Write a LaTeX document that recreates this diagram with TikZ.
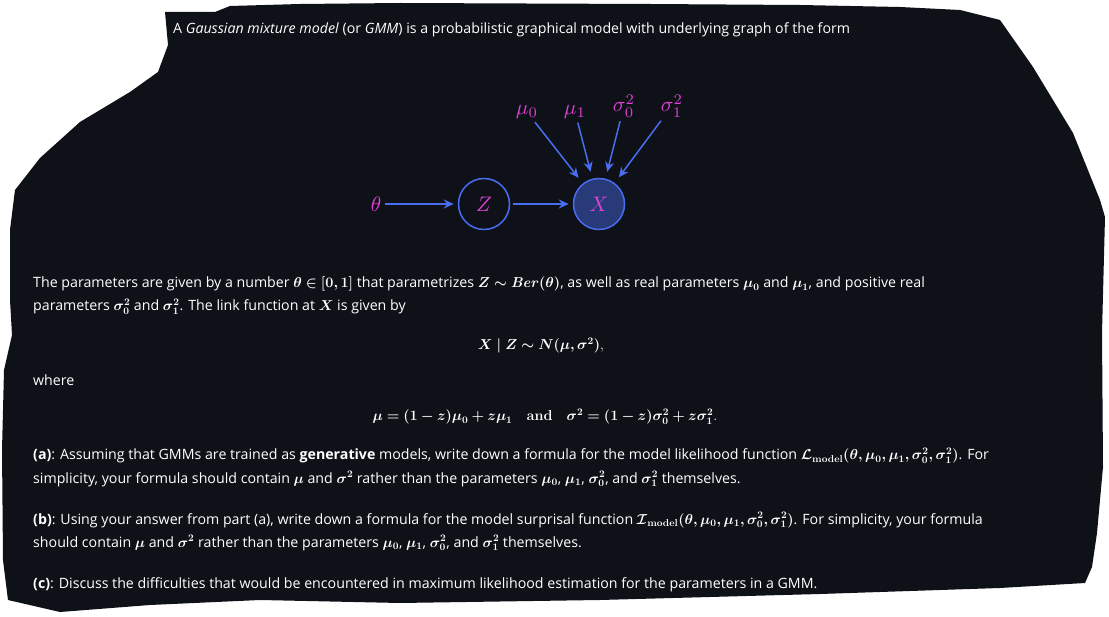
\documentclass[tikz,border=0pt]{standalone}
\usepackage{amsmath,bm}
\usepackage[no-math]{fontspec}
\setmainfont{Open Sans}
\usetikzlibrary{arrows.meta}
\definecolor{bgc}{HTML}{0E1117}
\definecolor{edgec}{HTML}{4A6CF0}
\definecolor{labc}{HTML}{E040D8}
\definecolor{xfill}{HTML}{283A78}
\tikzset{
  txt/.style={anchor=base west,text=white,font=\fontsize{14.2}{17}\selectfont,inner sep=0pt},
  ctxt/.style={anchor=base,text=white,font=\fontsize{14.2}{17}\selectfont,inner sep=0pt},
  lab/.style={text=labc,inner sep=1pt},
  rv/.style={circle,draw=edgec,line width=1.5pt,minimum size=51pt,text=labc},
  arr/.style={draw=edgec,line width=1.5pt,-{Stealth[length=10pt,width=9pt]}}
}
\newcommand{\bmm}[1]{\boldsymbol{#1}}
\newcommand{\grlab}[1]{\scalebox{2.1}{#1}}
\begin{document}
\begin{tikzpicture}[x=1pt,y=-1pt]
\useasboundingbox (0,0) rectangle (1109,617);
\fill[bgc] (165,12) -- (168,45) -- (158,72) -- (130,92) -- (80,122) -- (40,158) -- (15,190) -- (10,230) -- (10,300) -- (12,335) -- (4,370) -- (2,450) -- (3,560) -- (8,600) -- (60,612) -- (150,605) -- (260,600) -- (400,603) -- (600,600) -- (820,594) -- (1000,588) -- (1085,583) -- (1092,567) -- (1097,533) -- (1103,467) -- (1102,333) -- (1105,217) -- (1100,200) -- (1073,133) -- (1033,67) -- (1000,20) -- (960,10) -- (900,7) -- (800,5) -- (650,4) -- (400,3) -- (300,4) -- (230,6) -- (215,12) -- cycle;

\node[txt] (t0) at (173,34) {A \textit{Gaussian mixture model} (or \textit{GMM}) is a probabilistic graphical model with underlying graph of the form};

\node[lab] (th) at (376,204) {\grlab{$\theta$}};
\node[rv] (Z) at (484,204) {\grlab{$Z$}};
\node[rv,fill=xfill] (X) at (599,204) {\grlab{$X$}};
\node[lab] (m0) at (527,112) {\grlab{$\mu_0$}};
\node[lab] (m1) at (575,112) {\grlab{$\mu_1$}};
\node[lab] (s0) at (624,106) {\grlab{$\sigma_0^2$}};
\node[lab] (s1) at (672,106) {\grlab{$\sigma_1^2$}};
\draw[arr,shorten <=3pt,shorten >=4pt] (th) -- (Z);
\draw[arr,shorten <=3pt,shorten >=4pt] (Z) -- (X);
\draw[arr,shorten <=3pt,shorten >=7pt] (m0) -- (X);
\draw[arr,shorten <=3pt,shorten >=7pt] (m1) -- (X);
\draw[arr,shorten <=3pt,shorten >=7pt] (s0) -- (X);
\draw[arr,shorten <=3pt,shorten >=7pt] (s1) -- (X);

\node[txt] (p1) at (33,288) {The parameters are given by a number $\bmm{\theta\in[0,1]}$ that parametrizes $\bmm{Z\sim \mathit{Ber}(\theta)}$, as well as real parameters $\bmm{\mu_0}$ and $\bmm{\mu_1}$, and positive real};
\node[txt] (p2) at (33,311) {parameters $\bmm{\sigma_0^2}$ and $\bmm{\sigma_1^2}$. The link function at $\bmm{X}$ is given by};
\node[ctxt] (e1) at (541,350) {$\bmm{X\mid Z\sim N(\mu,\sigma^2)},$};
\node[txt] (w) at (33,386) {where};
\node[ctxt] (e2) at (545,421) {$\bmm{\mu=(1-z)\mu_0+z\mu_1}\quad\mathbf{and}\quad\bmm{\sigma^2=(1-z)\sigma_0^2+z\sigma_1^2}.$};
\node[txt] (a1) at (33,460) {\textbf{(a)}: Assuming that GMMs are trained as \textbf{generative} models, write down a formula for the model likelihood function $\bmm{\mathcal{L}}_{\mathbf{model}}\bmm{(\theta,\mu_0,\mu_1,\sigma_0^2,\sigma_1^2)}$. For};
\node[txt] (a2) at (33,483) {simplicity, your formula should contain $\bmm{\mu}$ and $\bmm{\sigma^2}$ rather than the parameters $\bmm{\mu_0}$, $\bmm{\mu_1}$, $\bmm{\sigma_0^2}$, and $\bmm{\sigma_1^2}$ themselves.};
\node[txt] (b1) at (33,524) {\textbf{(b)}: Using your answer from part (a), write down a formula for the model surprisal function $\bmm{\mathcal{I}}_{\mathbf{model}}\bmm{(\theta,\mu_0,\mu_1,\sigma_0^2,\sigma_1^2)}$. For simplicity, your formula};
\node[txt] (b2) at (33,547) {should contain $\bmm{\mu}$ and $\bmm{\sigma^2}$ rather than the parameters $\bmm{\mu_0}$, $\bmm{\mu_1}$, $\bmm{\sigma_0^2}$, and $\bmm{\sigma_1^2}$ themselves.};
\node[txt] (c1) at (33,588) {\textbf{(c)}: Discuss the difficulties that would be encountered in maximum likelihood estimation for the parameters in a GMM.};
\end{tikzpicture}
\end{document}
